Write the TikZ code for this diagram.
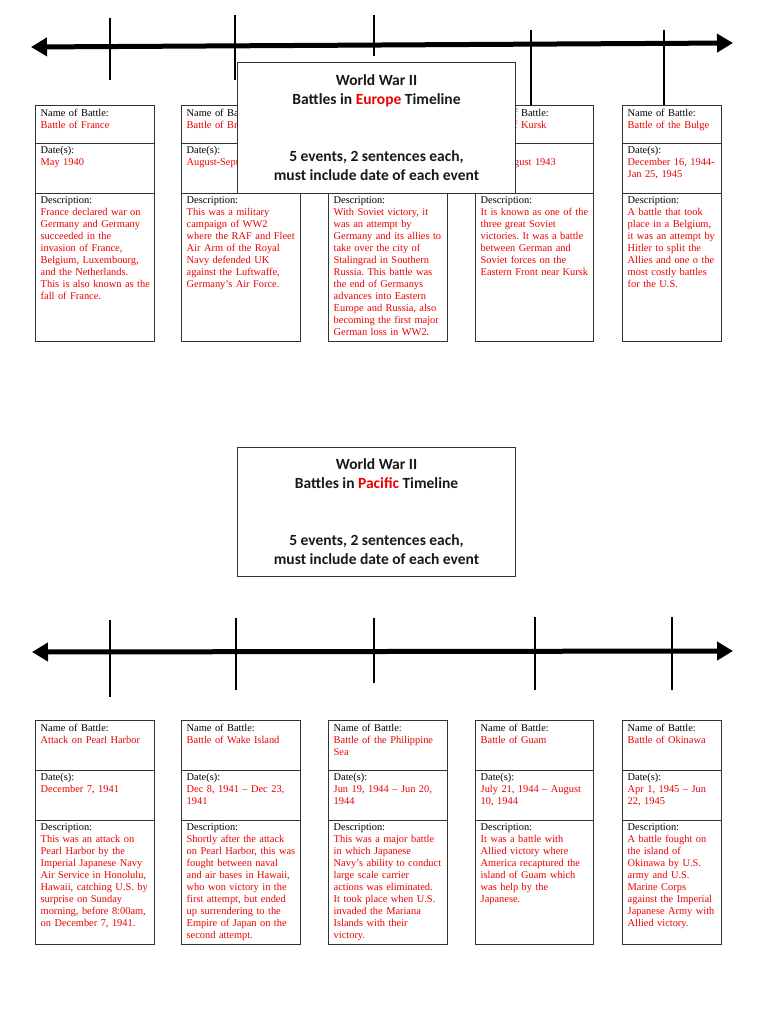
\documentclass[tikz,border=0pt]{standalone}
\usepackage{fontspec}
\setmainfont{Liberation Serif}
\newfontfamily\titlefont{Carlito}
\usetikzlibrary{arrows.meta}
\definecolor{bred}{RGB}{235,0,0}
\definecolor{ink}{RGB}{25,25,25}
\definecolor{frame}{RGB}{50,50,50}
\tikzset{
  cellbox/.style={draw=frame, line width=1pt, inner sep=0pt, fill=white},
  celltext/.style={inner sep=0pt, align=left, text width=130pt,
    font=\fontsize{10.4}{12}\selectfont\frenchspacing, text=black},
  titlebox/.style={draw=frame, line width=1pt, fill=white, inner sep=0pt,
    align=center, text=ink,
    font=\titlefont\bfseries\fontsize{15.5}{19}\selectfont},
  axisline/.style={line width=5pt,
    {Triangle[length=16pt,width=18pt]}-{Triangle[length=16pt,width=18pt]}},
  tickline/.style={line width=2.8pt}
}
\newcommand\cellA[7]{%
  \node[cellbox, minimum width=#4pt, minimum height=#5pt, anchor=north west] (#1) at (#2,#3) {};
  \node[celltext, anchor=north west] (#1t) at ([xshift=5.5pt,yshift=-3.5pt]#1.north west)
    {#6\\\textcolor{bred}{#7}};
}
\begin{document}
\begin{tikzpicture}[x=1pt,y=-1pt]
\useasboundingbox (0,0) rectangle (768,1024);
\fill[white] (0,0) rectangle (768,1024);

% ---------- top timeline ----------
\coordinate (a1l) at (31,47);
\coordinate (a1r) at (733,43);
\draw[axisline] (a1l) -- (a1r);
\coordinate (t1a) at (110,18);  \coordinate (t1b) at (110,80);
\coordinate (t2a) at (235,15);  \coordinate (t2b) at (235,80);
\coordinate (t3a) at (374,15);  \coordinate (t3b) at (374,56);
\coordinate (t4a) at (531,30);  \coordinate (t4b) at (531,105);
\coordinate (t5a) at (664,30);  \coordinate (t5b) at (664,105);
\foreach \i in {1,...,5} \draw[tickline] (t\i a) -- (t\i b);

% ---------- top boxes ----------
\cellA{e1n}{35}{105}{119}{38}{Name of Battle:}{Battle of France}
\cellA{e1d}{35}{143}{119}{50}{Date(s):}{May 1940}
\cellA{e1x}{35}{193}{119}{148}{Description:}{France declared war on\\Germany and Germany\\succeeded in the\\invasion of France,\\Belgium, Luxembourg,\\and the Netherlands.\\This is also known as the\\fall of France.}

\cellA{e2n}{181}{105}{119}{38}{Name of Battle:}{Battle of Britain}
\cellA{e2d}{181}{143}{119}{50}{Date(s):}{August-September 1940}
\cellA{e2x}{181}{193}{119}{148}{Description:}{This was a military\\campaign of WW2\\where the RAF and Fleet\\Air Arm of the Royal\\Navy defended UK\\against the Luftwaffe,\\Germany's Air Force.}

\cellA{e3x}{328}{193}{119}{148}{Description:}{With Soviet victory, it\\was an attempt by\\Germany and its allies to\\take over the city of\\Stalingrad in Southern\\Russia. This battle was\\the end of Germanys\\advances into Eastern\\Europe and Russia, also\\becoming the first major\\German loss in WW2.}

\cellA{e4n}{475}{105}{118}{38}{Name of Battle:}{Battle of Kursk}
\cellA{e4d}{475}{143}{118}{50}{Date(s):}{July-August 1943}
\cellA{e4x}{475}{193}{118}{148}{Description:}{It is known as one of the\\three great Soviet\\victories. It was a battle\\between German and\\Soviet forces on the\\Eastern Front near Kursk}

\cellA{e5n}{622}{105}{99}{38}{Name of Battle:}{Battle of the Bulge}
\cellA{e5d}{622}{143}{99}{50}{Date(s):}{December 16, 1944-\\Jan 25, 1945}
\cellA{e5x}{622}{193}{99}{148}{Description:}{A battle that took\\place in a Belgium,\\it was an attempt by\\Hitler to split the\\Allies and one o the\\most costly battles\\for the U.S.}

% ---------- top title ----------
\node[titlebox, minimum width=278pt, minimum height=131pt, anchor=north west] (title1) at (237,62)
  {World War II\\Battles in \textcolor{bred}{Europe} Timeline\\[38pt]5 events, 2 sentences each,\\must include date of each event};

% ---------- bottom title ----------
\node[titlebox, minimum width=278pt, minimum height=129pt, anchor=north west] (title2) at (237,447)
  {World War II\\Battles in \textcolor{bred}{Pacific} Timeline\\[38pt]5 events, 2 sentences each,\\must include date of each event};

% ---------- bottom timeline ----------
\coordinate (a2l) at (32,652);
\coordinate (a2r) at (733,651);
\draw[axisline] (a2l) -- (a2r);
\coordinate (s1a) at (110,620);  \coordinate (s1b) at (110,697);
\coordinate (s2a) at (236,618);  \coordinate (s2b) at (236,690);
\coordinate (s3a) at (374,618);  \coordinate (s3b) at (374,683);
\coordinate (s4a) at (535,617);  \coordinate (s4b) at (535,690);
\coordinate (s5a) at (672,617);  \coordinate (s5b) at (672,690);
\foreach \i in {1,...,5} \draw[tickline] (s\i a) -- (s\i b);

% ---------- bottom boxes ----------
\cellA{p1n}{35}{720}{119}{50}{Name of Battle:}{Attack on Pearl Harbor}
\cellA{p1d}{35}{770}{119}{50}{Date(s):}{December 7, 1941}
\cellA{p1x}{35}{820}{119}{124}{Description:}{This was an attack on\\Pearl Harbor by the\\Imperial Japanese Navy\\Air Service in Honolulu,\\Hawaii, catching U.S. by\\surprise on Sunday\\morning, before 8:00am,\\on December 7, 1941.}

\cellA{p2n}{181}{720}{119}{50}{Name of Battle:}{Battle of Wake Island}
\cellA{p2d}{181}{770}{119}{50}{Date(s):}{Dec 8, 1941 -- Dec 23,\\1941}
\cellA{p2x}{181}{820}{119}{124}{Description:}{Shortly after the attack\\on Pearl Harbor, this was\\fought between naval\\and air bases in Hawaii,\\who won victory in the\\first attempt, but ended\\up surrendering to the\\Empire of Japan on the\\second attempt.}

\cellA{p3n}{328}{720}{119}{50}{Name of Battle:}{Battle of the Philippine\\Sea}
\cellA{p3d}{328}{770}{119}{50}{Date(s):}{Jun 19, 1944 -- Jun 20,\\1944}
\cellA{p3x}{328}{820}{119}{124}{Description:}{This was a major battle\\in which Japanese\\Navy's ability to conduct\\large scale carrier\\actions was eliminated.\\It took place when U.S.\\invaded the Mariana\\Islands with their\\victory.}

\cellA{p4n}{475}{720}{118}{50}{Name of Battle:}{Battle of Guam}
\cellA{p4d}{475}{770}{118}{50}{Date(s):}{July 21, 1944 -- August\\10, 1944}
\cellA{p4x}{475}{820}{118}{124}{Description:}{It was a battle with\\Allied victory where\\America recaptured the\\island of Guam which\\was help by the\\Japanese.}

\cellA{p5n}{622}{720}{99}{50}{Name of Battle:}{Battle of Okinawa}
\cellA{p5d}{622}{770}{99}{50}{Date(s):}{Apr 1, 1945 -- Jun\\22, 1945}
\cellA{p5x}{622}{820}{99}{124}{Description:}{A battle fought on\\the island of\\Okinawa by U.S.\\army and U.S.\\Marine Corps\\against the Imperial\\Japanese Army with\\Allied victory.}
\end{tikzpicture}
\end{document}
